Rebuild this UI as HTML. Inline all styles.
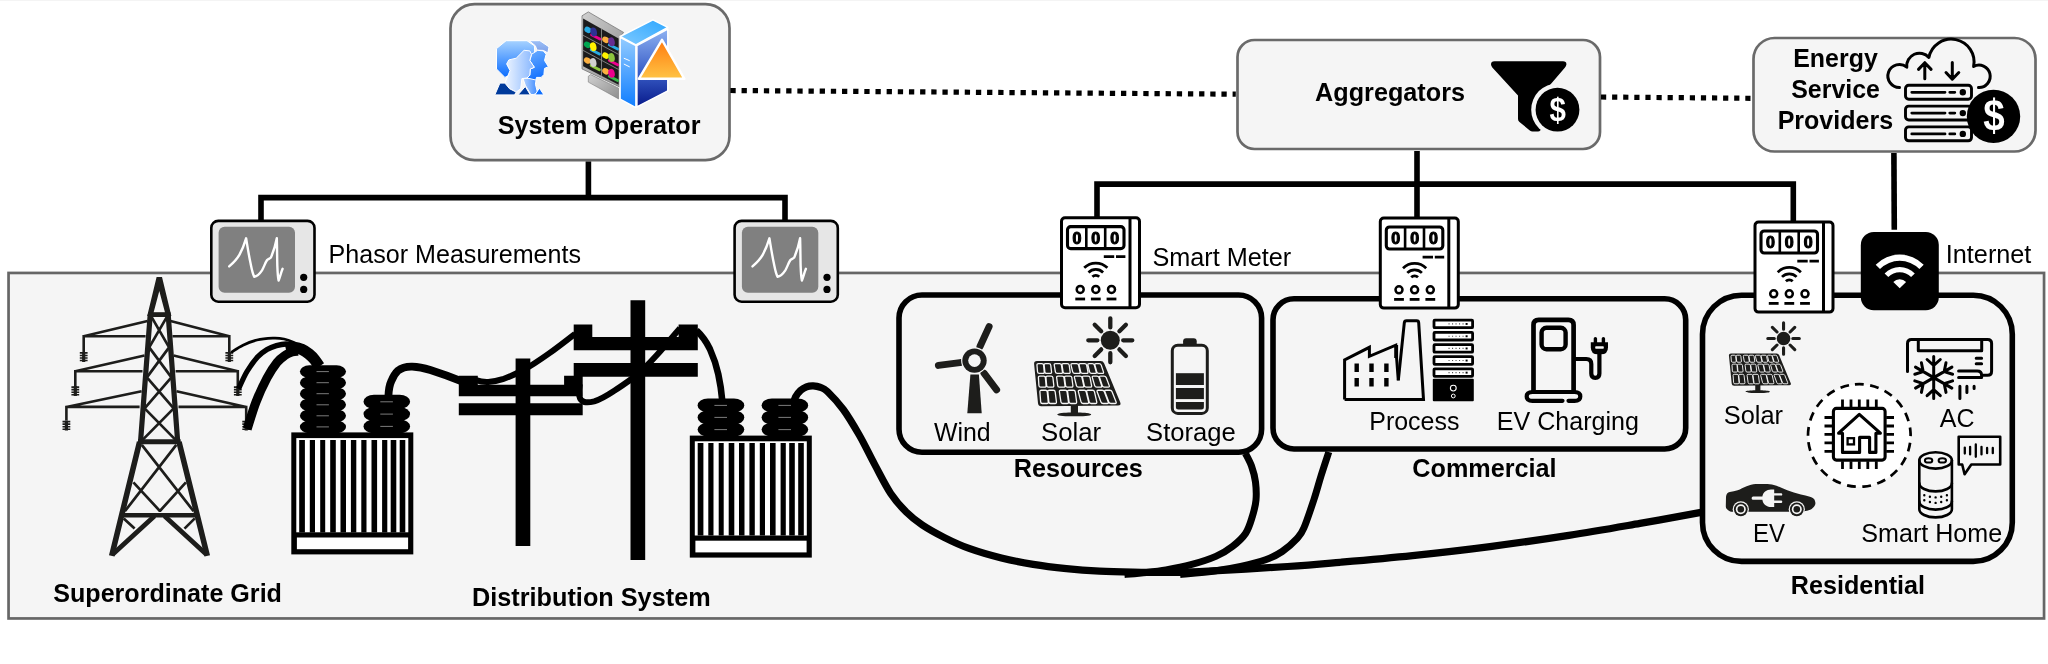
<!DOCTYPE html>
<html lang="en"><head><meta charset="utf-8"><title>Smart grid architecture</title>
<style>html,body{margin:0;padding:0;background:#fff;overflow:hidden}svg{display:block;will-change:transform}text{font-family:"Liberation Sans",sans-serif}</style></head>
<body>
<svg width="2048" height="664" viewBox="0 0 2048 664">
<rect x="0" y="0" width="2048" height="1" fill="#f4f4f4"/>
<rect x="8.55" y="272.95" width="2035.5" height="345.5" fill="#f5f5f5" stroke="#666" stroke-width="2.7"/>
<rect x="450.5" y="4.2" width="279" height="155.9" rx="24" ry="24" fill="#f5f5f5" stroke="#6a6a6a" stroke-width="2.7"/>
<rect x="1237.5" y="40" width="362.5" height="109" rx="17" ry="17" fill="#f5f5f5" stroke="#6a6a6a" stroke-width="2.7"/>
<rect x="1753.5" y="38" width="282" height="113.5" rx="21" ry="21" fill="#f5f5f5" stroke="#6a6a6a" stroke-width="2.7"/>
<line x1="730.4" y1="90.5" x2="1235.8" y2="94.2" stroke="#000" stroke-width="5.2" stroke-dasharray="5.3 5.86"/>
<line x1="1601" y1="97" x2="1751.2" y2="98.3" stroke="#000" stroke-width="5.2" stroke-dasharray="5.2 5.9"/>
<path d="M588.4 161.5V197.6M261 222V197.6H785V222" fill="none" stroke="#000" stroke-width="5.6" stroke-linejoin="miter"/>
<path d="M1417 151V218M1097 218V184.1H1793.3V222" fill="none" stroke="#000" stroke-width="5.6" stroke-linejoin="miter"/>
<path d="M1893.9 153L1894.3 229.8" fill="none" stroke="#000" stroke-width="5.6"/>
<rect x="899" y="295" width="362.6" height="157.3" rx="23" ry="23" fill="none" stroke="#000" stroke-width="5.6"/>
<rect x="1273" y="298.8" width="412.7" height="150.2" rx="21" ry="21" fill="none" stroke="#000" stroke-width="5.6"/>
<rect x="1702.5" y="295.2" width="309.8" height="266.2" rx="39" ry="39" fill="none" stroke="#000" stroke-width="5.6"/>
<g fill="none" stroke="#000" stroke-width="7" stroke-linecap="butt">
<path d="M793.6 404.0C793.9 402.8 794.3 399.3 795.5 397.0C796.7 394.7 798.8 392.1 800.6 390.4C802.4 388.7 804.4 387.6 806.5 386.8C808.6 386.0 810.9 385.7 813.2 385.8C815.5 385.9 818.1 386.4 820.5 387.4C822.9 388.3 823.6 387.8 827.4 391.5C831.2 395.2 838.0 402.3 843.3 409.5C848.6 416.7 853.8 425.6 859.1 434.8C864.4 444.0 869.6 455.1 874.9 464.9C880.2 474.7 885.4 485.5 890.7 493.4C896.0 501.3 901.2 507.0 906.5 512.3C911.8 517.6 916.0 520.8 922.3 525.0C928.6 529.2 936.6 533.6 944.5 537.6C952.4 541.6 960.3 545.3 969.8 548.7C979.3 552.1 990.8 555.4 1001.4 558.0C1012.0 560.6 1022.4 562.6 1033.2 564.4C1044.0 566.2 1055.3 567.5 1066.4 568.6C1077.5 569.7 1088.5 570.5 1099.6 571.1C1110.7 571.7 1121.7 571.9 1132.8 572.1C1143.9 572.3 1154.9 572.5 1166.0 572.4C1177.1 572.3 1179.0 572.7 1199.2 571.7C1219.5 570.7 1264.0 568.1 1287.5 566.5C1311.0 564.9 1319.2 564.1 1340.0 562.3C1360.8 560.5 1387.5 558.2 1412.5 555.6C1437.5 553.0 1464.0 550.0 1490.0 546.6C1516.0 543.2 1543.8 539.3 1568.8 535.4C1593.8 531.5 1618.0 527.2 1640.0 523.4C1662.0 519.6 1690.8 514.2 1701.0 512.4" stroke-width="7.2"/>
<path d="M1245.5 453.5C1246.5 455.6 1249.8 461.2 1251.5 466.0C1253.2 470.8 1254.8 476.3 1255.5 482.0C1256.2 487.7 1256.5 494.2 1256.0 500.0C1255.5 505.8 1254.0 511.1 1252.3 516.6C1250.6 522.1 1249.0 528.2 1245.7 533.2C1242.4 538.2 1237.4 542.6 1232.4 546.5C1227.4 550.4 1222.7 553.4 1215.8 556.4C1208.9 559.4 1199.2 562.5 1190.9 564.7C1182.6 567.0 1174.3 568.5 1166.0 569.9C1157.7 571.3 1148.0 572.2 1141.1 573.0C1134.2 573.8 1127.3 574.2 1124.5 574.4"/>
<path d="M1328.8 452.0C1327.5 456.0 1323.5 468.0 1321.0 476.0C1318.5 484.0 1316.7 491.3 1313.8 500.0C1310.9 508.7 1306.6 521.8 1303.8 528.2C1301.0 534.6 1300.8 534.5 1297.2 538.4C1293.6 542.3 1287.5 547.9 1282.2 551.5C1276.9 555.1 1272.5 557.3 1265.6 559.8C1258.7 562.3 1249.0 564.6 1240.7 566.4C1232.4 568.2 1225.9 569.4 1215.8 570.8C1205.7 572.2 1186.0 574.0 1180.1 574.6"/>
</g>
<text x="497.81" y="134.3" font-size="25.5" textLength="202.68" lengthAdjust="spacingAndGlyphs" font-weight="700" fill="#000">System Operator</text>
<text x="328.53" y="262.5" font-size="25.5" textLength="252.51" lengthAdjust="spacingAndGlyphs" fill="#000">Phasor Measurements</text>
<text x="1315.11" y="101.3" font-size="25.5" textLength="149.89" lengthAdjust="spacingAndGlyphs" font-weight="700" fill="#000">Aggregators</text>
<text x="1793.25" y="67.0" font-size="25.5" textLength="84.50" lengthAdjust="spacingAndGlyphs" font-weight="700" fill="#000">Energy</text>
<text x="1791.22" y="98.0" font-size="25.5" textLength="88.71" lengthAdjust="spacingAndGlyphs" font-weight="700" fill="#000">Service</text>
<text x="1777.64" y="128.9" font-size="25.5" textLength="115.49" lengthAdjust="spacingAndGlyphs" font-weight="700" fill="#000">Providers</text>
<text x="1152.42" y="265.6" font-size="25.5" textLength="138.76" lengthAdjust="spacingAndGlyphs" fill="#000">Smart Meter</text>
<text x="1945.82" y="263.0" font-size="25.5" textLength="85.56" lengthAdjust="spacingAndGlyphs" fill="#000">Internet</text>
<text x="934.00" y="440.8" font-size="25.5" textLength="56.68" lengthAdjust="spacingAndGlyphs" fill="#000">Wind</text>
<text x="1040.98" y="440.7" font-size="25.5" textLength="60.16" lengthAdjust="spacingAndGlyphs" fill="#000">Solar</text>
<text x="1146.09" y="440.7" font-size="25.5" textLength="89.62" lengthAdjust="spacingAndGlyphs" fill="#000">Storage</text>
<text x="1013.82" y="477.1" font-size="25.5" textLength="128.97" lengthAdjust="spacingAndGlyphs" font-weight="700" fill="#000">Resources</text>
<text x="1369.24" y="429.9" font-size="25.5" textLength="90.16" lengthAdjust="spacingAndGlyphs" fill="#000">Process</text>
<text x="1496.73" y="429.8" font-size="25.5" textLength="142.24" lengthAdjust="spacingAndGlyphs" fill="#000">EV Charging</text>
<text x="1412.31" y="477.0" font-size="25.5" textLength="144.25" lengthAdjust="spacingAndGlyphs" font-weight="700" fill="#000">Commercial</text>
<text x="1723.81" y="424.1" font-size="25.5" textLength="59.22" lengthAdjust="spacingAndGlyphs" fill="#000">Solar</text>
<text x="1939.80" y="426.6" font-size="25.5" textLength="34.71" lengthAdjust="spacingAndGlyphs" fill="#000">AC</text>
<text x="1752.92" y="541.8" font-size="25.5" textLength="32.01" lengthAdjust="spacingAndGlyphs" fill="#000">EV</text>
<text x="1861.33" y="541.8" font-size="25.5" textLength="140.88" lengthAdjust="spacingAndGlyphs" fill="#000">Smart Home</text>
<text x="1790.83" y="594.2" font-size="25.5" textLength="134.19" lengthAdjust="spacingAndGlyphs" font-weight="700" fill="#000">Residential</text>
<text x="53.22" y="602.2" font-size="25.5" textLength="228.74" lengthAdjust="spacingAndGlyphs" font-weight="700" fill="#000">Superordinate Grid</text>
<text x="472.02" y="605.5" font-size="25.5" textLength="238.64" lengthAdjust="spacingAndGlyphs" font-weight="700" fill="#000">Distribution System</text>
<g transform="translate(210,219.6)">
<rect x="1.3" y="1.3" width="103.2" height="80.8" rx="7" ry="7" fill="#e6e6e6" stroke="#000" stroke-width="2.6"/>
<rect x="8.6" y="7.2" width="76.4" height="66" rx="6" ry="6" fill="#808080"/>
<path d="M19.2 46.8C23 43.5 27 39.5 29.5 35C32.5 29.5 34.5 24 36.1 18.7C37.5 27 38.8 35.5 40.4 43C41.5 48.5 42.5 54.5 44.3 57.1C47 56.8 49.8 54 52 50.7C54 47.5 55 43.5 57.1 40.4C58.2 39.2 59.8 39.2 60.9 37.9C63.5 32 65.5 25.5 66.8 18.7C67.1 28 67.1 37 67.3 45.6C67.5 51 67.7 57 68.6 60.9C70 57.5 71 53 72.6 49.2" fill="none" stroke="#fff" stroke-width="2.4" stroke-linecap="round" stroke-linejoin="round"/>
<circle cx="93.7" cy="57.7" r="3.6" fill="#000"/><circle cx="93.7" cy="69.8" r="3.6" fill="#000"/>
</g>
<g transform="translate(733.3,219.6)">
<rect x="1.3" y="1.3" width="103.2" height="80.8" rx="7" ry="7" fill="#e6e6e6" stroke="#000" stroke-width="2.6"/>
<rect x="8.6" y="7.2" width="76.4" height="66" rx="6" ry="6" fill="#808080"/>
<path d="M19.2 46.8C23 43.5 27 39.5 29.5 35C32.5 29.5 34.5 24 36.1 18.7C37.5 27 38.8 35.5 40.4 43C41.5 48.5 42.5 54.5 44.3 57.1C47 56.8 49.8 54 52 50.7C54 47.5 55 43.5 57.1 40.4C58.2 39.2 59.8 39.2 60.9 37.9C63.5 32 65.5 25.5 66.8 18.7C67.1 28 67.1 37 67.3 45.6C67.5 51 67.7 57 68.6 60.9C70 57.5 71 53 72.6 49.2" fill="none" stroke="#fff" stroke-width="2.4" stroke-linecap="round" stroke-linejoin="round"/>
<circle cx="93.7" cy="57.7" r="3.6" fill="#000"/><circle cx="93.7" cy="69.8" r="3.6" fill="#000"/>
</g>
<g transform="translate(1060,216.2)" stroke="#000" fill="none">
<rect x="1.5" y="1.5" width="78" height="90" rx="3.5" ry="3.5" fill="#fff" stroke-width="3"/>
<line x1="70" y1="2" x2="70" y2="91" stroke-width="3"/>
<rect x="7.5" y="10.4" width="56.5" height="22" rx="3.2" ry="3.2" stroke-width="3.1"/>
<path d="M26.3 10.4V32.4M45.2 10.4V32.4" stroke-width="2.6"/>
<path d="M43.8 40.5H54.2M56 40.5H65.4" stroke-width="2.8"/>
<path d="M24.2 51.6A16.5 16.5 0 0 1 47.4 51.6M28.5 56.3A10.3 10.3 0 0 1 43.1 56.3M32.4 60.6A4.8 4.8 0 0 1 39.2 60.6" stroke-width="2.7" stroke-linecap="butt"/>
<circle cx="20.2" cy="73.2" r="3.5" stroke-width="2.5"/>
<line x1="15.299999999999999" y1="82.8" x2="25.1" y2="82.8" stroke-width="2.8"/>
<circle cx="35.8" cy="73.2" r="3.5" stroke-width="2.5"/>
<line x1="30.9" y1="82.8" x2="40.699999999999996" y2="82.8" stroke-width="2.8"/>
<circle cx="51.5" cy="73.2" r="3.5" stroke-width="2.5"/>
<line x1="46.6" y1="82.8" x2="56.4" y2="82.8" stroke-width="2.8"/>
</g>
<text x="1076.9" y="243.5" font-size="16" font-weight="700" text-anchor="middle" fill="#000" stroke="#000" stroke-width="1.1" stroke-linejoin="round">0</text>
<text x="1095.8" y="243.5" font-size="16" font-weight="700" text-anchor="middle" fill="#000" stroke="#000" stroke-width="1.1" stroke-linejoin="round">0</text>
<text x="1114.6" y="243.5" font-size="16" font-weight="700" text-anchor="middle" fill="#000" stroke="#000" stroke-width="1.1" stroke-linejoin="round">0</text>
<g transform="translate(1378.8,216.6)" stroke="#000" fill="none">
<rect x="1.5" y="1.5" width="78" height="90" rx="3.5" ry="3.5" fill="#fff" stroke-width="3"/>
<line x1="70" y1="2" x2="70" y2="91" stroke-width="3"/>
<rect x="7.5" y="10.4" width="56.5" height="22" rx="3.2" ry="3.2" stroke-width="3.1"/>
<path d="M26.3 10.4V32.4M45.2 10.4V32.4" stroke-width="2.6"/>
<path d="M43.8 40.5H54.2M56 40.5H65.4" stroke-width="2.8"/>
<path d="M24.2 51.6A16.5 16.5 0 0 1 47.4 51.6M28.5 56.3A10.3 10.3 0 0 1 43.1 56.3M32.4 60.6A4.8 4.8 0 0 1 39.2 60.6" stroke-width="2.7" stroke-linecap="butt"/>
<circle cx="20.2" cy="73.2" r="3.5" stroke-width="2.5"/>
<line x1="15.299999999999999" y1="82.8" x2="25.1" y2="82.8" stroke-width="2.8"/>
<circle cx="35.8" cy="73.2" r="3.5" stroke-width="2.5"/>
<line x1="30.9" y1="82.8" x2="40.699999999999996" y2="82.8" stroke-width="2.8"/>
<circle cx="51.5" cy="73.2" r="3.5" stroke-width="2.5"/>
<line x1="46.6" y1="82.8" x2="56.4" y2="82.8" stroke-width="2.8"/>
</g>
<text x="1395.7" y="243.9" font-size="16" font-weight="700" text-anchor="middle" fill="#000" stroke="#000" stroke-width="1.1" stroke-linejoin="round">0</text>
<text x="1414.6" y="243.9" font-size="16" font-weight="700" text-anchor="middle" fill="#000" stroke="#000" stroke-width="1.1" stroke-linejoin="round">0</text>
<text x="1433.4" y="243.9" font-size="16" font-weight="700" text-anchor="middle" fill="#000" stroke="#000" stroke-width="1.1" stroke-linejoin="round">0</text>
<g transform="translate(1753.5,220.6)" stroke="#000" fill="none">
<rect x="1.5" y="1.5" width="78" height="90" rx="3.5" ry="3.5" fill="#fff" stroke-width="3"/>
<line x1="70" y1="2" x2="70" y2="91" stroke-width="3"/>
<rect x="7.5" y="10.4" width="56.5" height="22" rx="3.2" ry="3.2" stroke-width="3.1"/>
<path d="M26.3 10.4V32.4M45.2 10.4V32.4" stroke-width="2.6"/>
<path d="M43.8 40.5H54.2M56 40.5H65.4" stroke-width="2.8"/>
<path d="M24.2 51.6A16.5 16.5 0 0 1 47.4 51.6M28.5 56.3A10.3 10.3 0 0 1 43.1 56.3M32.4 60.6A4.8 4.8 0 0 1 39.2 60.6" stroke-width="2.7" stroke-linecap="butt"/>
<circle cx="20.2" cy="73.2" r="3.5" stroke-width="2.5"/>
<line x1="15.299999999999999" y1="82.8" x2="25.1" y2="82.8" stroke-width="2.8"/>
<circle cx="35.8" cy="73.2" r="3.5" stroke-width="2.5"/>
<line x1="30.9" y1="82.8" x2="40.699999999999996" y2="82.8" stroke-width="2.8"/>
<circle cx="51.5" cy="73.2" r="3.5" stroke-width="2.5"/>
<line x1="46.6" y1="82.8" x2="56.4" y2="82.8" stroke-width="2.8"/>
</g>
<text x="1770.4" y="247.9" font-size="16" font-weight="700" text-anchor="middle" fill="#000" stroke="#000" stroke-width="1.1" stroke-linejoin="round">0</text>
<text x="1789.3" y="247.9" font-size="16" font-weight="700" text-anchor="middle" fill="#000" stroke="#000" stroke-width="1.1" stroke-linejoin="round">0</text>
<text x="1808.1" y="247.9" font-size="16" font-weight="700" text-anchor="middle" fill="#000" stroke="#000" stroke-width="1.1" stroke-linejoin="round">0</text>
<rect x="1860.8" y="232" width="78" height="78.3" rx="13" ry="13" fill="#000"/>
<path d="M1899.7 288.3L1893.3 282.0A9 9 0 0 1 1906.1 282.0ZM1884.6 273.4A21.2 21.2 0 0 1 1914.8 273.4L1911.1 277.1A16 16 0 0 0 1888.3 277.1ZM1875.7 264.7A33.6 33.6 0 0 1 1923.7 264.7L1919.4 269.0A27.6 27.6 0 0 0 1880.0 269.0Z" fill="#fff"/>
<g stroke="#1d1d1b" fill="none" stroke-linecap="butt" stroke-linejoin="miter">
<path d="M156.6 277H162L171.4 316H147.2Z M159.3 291L153.6 312.5H165Z" fill="#1d1d1b" fill-rule="evenodd" stroke="none"/>
<path d="M150.2 314.7L140.5 442.2M168.2 314.7L177.7 442.2" stroke-width="5.2"/>
<path d="M139.6 441.8L111.7 555.8M179 441.8L207.3 555.8" stroke-width="5.6"/>
<path d="M148 314.7H170.6" stroke-width="4.6"/>
<path d="M138 441.8H180.6" stroke-width="5"/>
<path d="M121 515.3H197.6" stroke-width="4.4"/>
<path d="M151.5 316.9L169.1 347.4M166.9 316.9L149.2 347.4M149.2 347.4L171.4 377.4M169.1 347.4L146.9 377.4M146.9 377.4L173.7 408.4M171.4 377.4L144.6 408.4M144.6 408.4L176.1 440.4M173.7 408.4L142.1 440.4" stroke-width="2.7"/>
<path d="M141.8 444.9L193.6 511.2M176.3 444.9L124.9 511.2M133.4 482.3L159.9 511M185.9 482.3L159.9 511" stroke-width="2.7"/>
<path d="M123.7 518.4L134.6 528.6M194.8 518.4L184.5 528.6" stroke-width="2.7"/>
<path d="M154.5 516L112.5 554.5M164.5 516L206.5 554.5" stroke-width="4.8"/>
<path d="M147.6 321.1L83.7 336.3H145.6M83.7 335.1V351.9M170.5 321.1L229.3 336.3H172.5M229.3 335.1V351.9M144.5 355.5L75.3 371.2H142.5M75.3 370.0V386.1M173.6 355.5L237.8 371.2H175.6M237.8 370.0V386.1M141.6 391.2L66.4 406.9H139.6M66.4 405.7V420.6M176.5 391.2L246.2 406.9H178.5M246.2 405.7V420.6" stroke-width="2.6"/>
<path d="M82.10000000000001 351.9H85.3V361.9H82.10000000000001ZM79.8 352.09999999999997H87.60000000000001V353.7H79.8ZM79.8 354.65H87.60000000000001V356.25H79.8ZM79.8 357.2H87.60000000000001V358.8H79.8ZM79.8 359.74999999999994H87.60000000000001V361.34999999999997H79.8ZM227.70000000000002 351.9H230.9V361.9H227.70000000000002ZM225.4 352.09999999999997H233.20000000000002V353.7H225.4ZM225.4 354.65H233.20000000000002V356.25H225.4ZM225.4 357.2H233.20000000000002V358.8H225.4ZM225.4 359.74999999999994H233.20000000000002V361.34999999999997H225.4ZM73.7 386.1H76.89999999999999V396.1H73.7ZM71.39999999999999 386.3H79.2V387.90000000000003H71.39999999999999ZM71.39999999999999 388.85H79.2V390.45000000000005H71.39999999999999ZM71.39999999999999 391.40000000000003H79.2V393.00000000000006H71.39999999999999ZM71.39999999999999 393.95H79.2V395.55H71.39999999999999ZM236.20000000000002 386.1H239.4V396.1H236.20000000000002ZM233.9 386.3H241.70000000000002V387.90000000000003H233.9ZM233.9 388.85H241.70000000000002V390.45000000000005H233.9ZM233.9 391.40000000000003H241.70000000000002V393.00000000000006H233.9ZM233.9 393.95H241.70000000000002V395.55H233.9ZM64.80000000000001 420.6H68.0V430.6H64.80000000000001ZM62.50000000000001 420.8H70.30000000000001V422.40000000000003H62.50000000000001ZM62.50000000000001 423.35H70.30000000000001V424.95000000000005H62.50000000000001ZM62.50000000000001 425.90000000000003H70.30000000000001V427.50000000000006H62.50000000000001ZM62.50000000000001 428.45H70.30000000000001V430.05H62.50000000000001ZM244.6 420.6H247.79999999999998V430.6H244.6ZM242.29999999999998 420.8H250.1V422.40000000000003H242.29999999999998ZM242.29999999999998 423.35H250.1V424.95000000000005H242.29999999999998ZM242.29999999999998 425.90000000000003H250.1V427.50000000000006H242.29999999999998ZM242.29999999999998 428.45H250.1V430.05H242.29999999999998Z" fill="#1d1d1b" stroke="none"/>
</g>
<g fill="none" stroke="#000" stroke-linecap="butt">
<path d="M231.2 352.3C233.2 351.1 238.7 347.2 243.0 345.2C247.3 343.1 252.0 341.2 257.0 340.0C262.0 338.8 268.3 338.4 272.8 338.2C277.3 338.0 280.5 338.3 284.0 339.0C287.5 339.7 290.8 341.1 294.0 342.5C297.2 343.9 300.5 345.9 303.0 347.5C305.5 349.1 308.0 351.2 309.0 352.0" stroke-width="2.7"/>
<path d="M238.6 388.8C240.0 385.9 243.8 376.8 247.0 371.5C250.2 366.2 254.2 360.7 257.5 357.0C260.8 353.3 263.9 351.4 267.0 349.5C270.1 347.6 273.2 346.5 276.4 345.6C279.6 344.7 283.1 344.0 286.0 344.0C288.9 344.0 291.2 344.5 294.0 345.4C296.8 346.3 301.5 348.8 303.0 349.5" stroke-width="5.3"/>
<path d="M247.2 429.0C248.7 424.5 252.7 410.5 256.0 402.0C259.3 393.5 263.5 384.6 267.0 378.0C270.5 371.4 274.0 366.3 277.0 362.5C280.0 358.7 282.5 357.1 285.0 355.4C287.5 353.6 289.8 352.7 292.0 352.0C294.2 351.3 297.0 351.3 298.0 351.2" stroke-width="9"/>
<path d="M286.0 349.6C287.3 349.3 291.3 347.6 294.0 347.6C296.7 347.6 299.5 348.4 302.0 349.5C304.5 350.6 306.9 352.3 309.0 354.0C311.1 355.7 312.8 357.4 314.5 359.5C316.2 361.6 318.5 365.3 319.3 366.5" stroke-width="11.4"/>
</g>
<rect x="299.9" y="365.3" width="46.1" height="12.6" rx="9.4" ry="6.3" fill="#000"/>
<rect x="299.9" y="376.4" width="46.1" height="12.6" rx="9.4" ry="6.3" fill="#000"/>
<rect x="299.9" y="387.4" width="46.1" height="12.6" rx="9.4" ry="6.3" fill="#000"/>
<rect x="299.9" y="398.5" width="46.1" height="12.6" rx="9.4" ry="6.3" fill="#000"/>
<rect x="299.9" y="409.5" width="46.1" height="12.6" rx="9.4" ry="6.3" fill="#000"/>
<rect x="299.9" y="420.6" width="46.1" height="12.6" rx="9.4" ry="6.3" fill="#000"/>
<path d="M316.5 371.6H328.9M316.5 382.7H328.9M316.5 393.7H328.9M316.5 404.8H328.9M316.5 415.8H328.9M316.5 426.9H328.9" stroke="#9a9a9a" stroke-width="0.8" fill="none"/>
<rect x="363.5" y="394.8" width="46.6" height="14.0" rx="10.5" ry="7.0" fill="#000"/>
<rect x="363.5" y="407.1" width="46.6" height="14.0" rx="10.5" ry="7.0" fill="#000"/>
<rect x="363.5" y="419.4" width="46.6" height="14.0" rx="10.5" ry="7.0" fill="#000"/>
<path d="M380.3 401.8H392.9M380.3 414.1H392.9M380.3 426.4H392.9" stroke="#9a9a9a" stroke-width="0.8" fill="none"/>
<rect x="697.6" y="398.5" width="46.7" height="13.8" rx="10.3" ry="6.9" fill="#000"/>
<rect x="697.6" y="410.6" width="46.7" height="13.8" rx="10.3" ry="6.9" fill="#000"/>
<rect x="697.6" y="422.7" width="46.7" height="13.8" rx="10.3" ry="6.9" fill="#000"/>
<path d="M714.4 405.4H727.0M714.4 417.4H727.0M714.4 429.6H727.0" stroke="#9a9a9a" stroke-width="0.8" fill="none"/>
<rect x="761.6" y="398.5" width="46.6" height="13.8" rx="10.3" ry="6.9" fill="#000"/>
<rect x="761.6" y="410.6" width="46.6" height="13.8" rx="10.3" ry="6.9" fill="#000"/>
<rect x="761.6" y="422.7" width="46.6" height="13.8" rx="10.3" ry="6.9" fill="#000"/>
<path d="M778.4 405.4H791.0M778.4 417.4H791.0M778.4 429.6H791.0" stroke="#9a9a9a" stroke-width="0.8" fill="none"/>
<g transform="translate(291.3,432.4)">
<rect x="0" y="0" width="122" height="122" fill="#000"/>
<rect x="5" y="5.7" width="112" height="94.2" fill="#fff"/>
<path d="M7.9 7.5H13.6V100H7.9ZM18.5 7.5H23.7V100H18.5ZM28.9 7.5H33.9V100H28.9ZM38.9 7.5H44.5V100H38.9ZM49.2 7.5H54.7V100H49.2ZM59.6 7.5H65V100H59.6ZM70 7.5H75.2V100H70ZM80.2 7.5H85.8V100H80.2ZM90.8 7.5H96V100H90.8ZM99.4 7.5H105V100H99.4ZM108.4 7.5H114V100H108.4Z" fill="#000"/>
<rect x="5.6" y="105.1" width="111.2" height="11.7" fill="#fff"/>
</g>
<g transform="translate(689.8,435.6)">
<rect x="0" y="0" width="122" height="122" fill="#000"/>
<rect x="5" y="5.7" width="112" height="94.2" fill="#fff"/>
<path d="M7.9 7.5H13.6V100H7.9ZM18.5 7.5H23.7V100H18.5ZM28.9 7.5H33.9V100H28.9ZM38.9 7.5H44.5V100H38.9ZM49.2 7.5H54.7V100H49.2ZM59.6 7.5H65V100H59.6ZM70 7.5H75.2V100H70ZM80.2 7.5H85.8V100H80.2ZM90.8 7.5H96V100H90.8ZM99.4 7.5H105V100H99.4ZM108.4 7.5H114V100H108.4Z" fill="#000"/>
<rect x="5.6" y="105.1" width="111.2" height="11.7" fill="#fff"/>
</g>
<path d="M515.6 358.5H530.3V546H515.6Z M458.8 384.7H582.7V396.3H458.8Z M458.8 375.8H477.8V385H458.8Z M564.1 375.8H582.7V385H564.1Z M458.8 403.3H582.7V415.3H458.8Z" fill="#000"/>
<path d="M630.5 300.3H645.2V560H630.5Z M573.7 337H697.8V350.2H573.7Z M573.7 324.5H592.3V338H573.7Z M678.6 324.5H697.8V338H678.6Z M573.7 363H697.8V376.7H573.7Z" fill="#000"/>
<g fill="none" stroke="#000" stroke-linecap="butt">
<path d="M388.4 396.5C388.6 390 389.5 385 391.5 380.7C393.5 376 395.5 373 397.8 370.8C402 367.5 407 366.4 412.3 366.6C418 366.8 424 368 430.3 369.9C440 373 450 376.5 460.5 380.8" stroke-width="7.8"/>
<path d="M476 380.2C480 381.6 484 382.2 488.2 382C493 381.8 498 380.8 502.7 379.2C510 376.5 517 373.5 524.3 369.5C532.5 365 540.5 359.5 548.4 353.9C557 347.8 565.5 341.2 575 333.8" stroke-width="6"/>
<path d="M579.8 384C579 388 578.6 392 579.3 396C580 399.5 581.5 401.2 584.4 402C587.5 402.8 590.8 402.2 594.2 401.3C601 399.3 607.3 395.3 613.5 391.2C620.3 387 626.5 382.6 632.8 378C641.3 371.5 649.3 363.4 656.9 355C665 346 672.5 336.8 680 328.2" stroke-width="6"/>
<path d="M696.5 330.5C703 336.5 707 343 709.9 349C713.5 357 716.5 366 718.3 374.3C720.2 383 721.5 392 722.3 401" stroke-width="6.6"/>
</g>
<g fill="#1d1d1b" stroke="none">
<path d="M970.4 374.5H978.9L981.7 413.2H967.3Z"/>
<g stroke="#1d1d1b" stroke-width="7" stroke-linecap="round" fill="none">
<path d="M980 346.5L989.1 326.6M960 362.6L938.4 365.4M984 373.2L996.6 389.8"/>
</g>
<circle cx="974.5" cy="360.6" r="13.4" fill="#f5f5f5"/>
<circle cx="974.5" cy="360.6" r="12.2"/>
<circle cx="974.5" cy="360.6" r="6.3" fill="#f5f5f5"/>
</g>
<g><path d="M1037 361.1H1100.6Q1103.2 361.1 1104.2 363.5L1120.2 402.2Q1121.5 405.4 1118 405.5L1041.4 406.3Q1038.3 406.4 1038 403.3L1034.1 364.1Q1033.8 361.1 1037 361.1Z" fill="#1d1d1b"/><path d="M1070.8 405H1078V412.4C1084 412.6 1091.2 413 1091.2 414.4C1091.2 415.8 1082 416.3 1074.3 416.3C1066.5 416.3 1057.3 415.8 1057.3 414.4C1057.3 413 1064.6 412.6 1070.8 412.4Z" fill="#1d1d1b"/><path d="M1036.98 365.21Q1036.86 363.62 1038.46 363.62L1041.82 363.62Q1043.42 363.62 1043.58 365.21L1044.24 371.82Q1044.40 373.41 1042.80 373.41L1039.24 373.41Q1037.64 373.41 1037.51 371.82ZM1044.17 365.21Q1044.01 363.62 1045.61 363.62L1048.97 363.62Q1050.57 363.62 1050.76 365.21L1051.55 371.82Q1051.74 373.41 1050.14 373.41L1046.59 373.41Q1044.99 373.41 1044.83 371.82ZM1054.26 365.20Q1054.00 363.62 1055.60 363.62L1059.59 363.62Q1061.19 363.62 1061.44 365.20L1062.47 371.83Q1062.71 373.41 1061.11 373.41L1057.26 373.41Q1055.66 373.41 1055.39 371.84ZM1062.03 365.20Q1061.78 363.62 1063.38 363.62L1067.38 363.62Q1068.98 363.62 1069.20 365.20L1070.13 371.83Q1070.35 373.41 1068.75 373.41L1064.90 373.41Q1063.30 373.41 1063.06 371.83ZM1071.03 365.17Q1070.65 363.62 1072.25 363.62L1076.59 363.62Q1078.19 363.62 1078.54 365.18L1080.04 371.85Q1080.39 373.41 1078.79 373.41L1074.70 373.41Q1073.10 373.41 1072.71 371.86ZM1079.13 365.18Q1078.78 363.62 1080.38 363.62L1084.72 363.62Q1086.32 363.62 1086.63 365.19L1087.96 371.84Q1088.28 373.41 1086.68 373.41L1082.58 373.41Q1080.98 373.41 1080.63 371.85ZM1087.96 365.17Q1087.59 363.62 1089.19 363.62L1092.26 363.62Q1093.86 363.62 1094.30 365.16L1096.21 371.87Q1096.65 373.41 1095.05 373.41L1091.54 373.41Q1089.94 373.41 1089.57 371.86ZM1094.89 365.16Q1094.45 363.62 1096.05 363.62L1099.11 363.62Q1100.71 363.62 1101.22 365.14L1103.45 371.89Q1103.95 373.41 1102.35 373.41L1098.84 373.41Q1097.24 373.41 1096.80 371.87ZM1038.42 377.65Q1038.33 376.06 1039.93 376.06L1043.63 376.06Q1045.23 376.06 1045.37 377.65L1046.07 385.53Q1046.21 387.13 1044.61 387.13L1040.61 387.13Q1039.01 387.13 1038.91 385.53ZM1045.96 377.65Q1045.82 376.06 1047.42 376.06L1051.12 376.06Q1052.72 376.06 1052.91 377.65L1053.81 385.54Q1054.00 387.13 1052.40 387.13L1048.40 387.13Q1046.80 387.13 1046.66 385.53ZM1056.66 377.64Q1056.44 376.06 1058.04 376.06L1062.14 376.06Q1063.74 376.06 1063.95 377.64L1065.00 385.54Q1065.21 387.13 1063.61 387.13L1059.51 387.13Q1057.91 387.13 1057.70 385.54ZM1064.54 377.64Q1064.33 376.06 1065.93 376.06L1070.03 376.06Q1071.63 376.06 1071.84 377.64L1072.88 385.54Q1073.10 387.13 1071.50 387.13L1067.40 387.13Q1065.80 387.13 1065.59 385.54ZM1074.46 377.61Q1074.07 376.06 1075.67 376.06L1080.02 376.06Q1081.62 376.06 1081.96 377.62L1083.72 385.56Q1084.06 387.13 1082.46 387.13L1078.42 387.13Q1076.82 387.13 1076.43 385.57ZM1082.55 377.62Q1082.20 376.06 1083.80 376.06L1088.15 376.06Q1089.75 376.06 1090.05 377.63L1091.59 385.55Q1091.90 387.13 1090.30 387.13L1086.25 387.13Q1084.65 387.13 1084.31 385.56ZM1092.35 377.59Q1091.90 376.06 1093.50 376.06L1096.86 376.06Q1098.46 376.06 1098.97 377.57L1101.67 385.61Q1102.18 387.13 1100.58 387.13L1096.73 387.13Q1095.13 387.13 1094.68 385.59ZM1099.56 377.57Q1099.05 376.06 1100.65 376.06L1104.01 376.06Q1105.61 376.06 1106.18 377.55L1109.25 385.63Q1109.82 387.13 1108.22 387.13L1104.37 387.13Q1102.77 387.13 1102.26 385.61ZM1039.91 391.86Q1039.79 390.26 1041.39 390.26L1045.49 390.26Q1047.09 390.26 1047.25 391.85L1048.25 401.89Q1048.41 403.48 1046.81 403.48L1042.37 403.48Q1040.77 403.48 1040.66 401.89ZM1047.84 391.85Q1047.68 390.26 1049.28 390.26L1053.38 390.26Q1054.98 390.26 1055.18 391.85L1056.44 401.89Q1056.64 403.48 1055.04 403.48L1050.60 403.48Q1049.00 403.48 1048.84 401.89ZM1059.42 391.84Q1059.19 390.26 1060.79 390.26L1065.23 390.26Q1066.83 390.26 1067.05 391.84L1068.46 401.90Q1068.69 403.48 1067.09 403.48L1062.75 403.48Q1061.15 403.48 1060.91 401.90ZM1067.64 391.84Q1067.41 390.26 1069.01 390.26L1073.45 390.26Q1075.05 390.26 1075.27 391.85L1076.61 401.90Q1076.82 403.48 1075.22 403.48L1070.88 403.48Q1069.28 403.48 1069.05 401.90ZM1078.39 391.81Q1077.99 390.26 1079.59 390.26L1084.18 390.26Q1085.78 390.26 1086.15 391.82L1088.59 401.93Q1088.96 403.48 1087.36 403.48L1083.02 403.48Q1081.42 403.48 1081.02 401.93ZM1086.74 391.82Q1086.37 390.26 1087.97 390.26L1092.55 390.26Q1094.15 390.26 1094.50 391.82L1096.74 401.92Q1097.09 403.48 1095.49 403.48L1091.15 403.48Q1089.55 403.48 1089.17 401.93ZM1097.16 391.76Q1096.60 390.26 1098.20 390.26L1102.15 390.26Q1103.75 390.26 1104.32 391.75L1108.23 401.99Q1108.80 403.48 1107.20 403.48L1103.10 403.48Q1101.50 403.48 1100.94 401.98ZM1104.91 391.75Q1104.34 390.26 1105.94 390.26L1109.89 390.26Q1111.49 390.26 1112.07 391.75L1116.10 401.99Q1116.68 403.48 1115.08 403.48L1110.98 403.48Q1109.38 403.48 1108.81 401.99Z" fill="none" stroke="#f5f5f5" stroke-width="1.3" stroke-linejoin="round"/><circle cx="1110.3" cy="340.3" r="9.5" fill="#1d1d1b"/><path d="M1123.2 340.3L1132.3 340.3M1119.4 349.4L1125.9 355.9M1110.3 353.2L1110.3 362.3M1101.2 349.4L1094.7 355.9M1097.4 340.3L1088.3 340.3M1101.2 331.2L1094.7 324.7M1110.3 327.4L1110.3 318.3M1119.4 331.2L1125.9 324.7" stroke="#1d1d1b" stroke-width="4.3" stroke-linecap="round" fill="none"/></g>
<g transform="translate(1729 353.7) scale(0.717) translate(-1034.2 -361.5)"><path d="M1037 361.1H1100.6Q1103.2 361.1 1104.2 363.5L1120.2 402.2Q1121.5 405.4 1118 405.5L1041.4 406.3Q1038.3 406.4 1038 403.3L1034.1 364.1Q1033.8 361.1 1037 361.1Z" fill="#1d1d1b"/><path d="M1070.8 405H1078V412.4C1084 412.6 1091.2 413 1091.2 414.4C1091.2 415.8 1082 416.3 1074.3 416.3C1066.5 416.3 1057.3 415.8 1057.3 414.4C1057.3 413 1064.6 412.6 1070.8 412.4Z" fill="#1d1d1b"/><path d="M1036.98 365.21Q1036.86 363.62 1038.46 363.62L1041.82 363.62Q1043.42 363.62 1043.58 365.21L1044.24 371.82Q1044.40 373.41 1042.80 373.41L1039.24 373.41Q1037.64 373.41 1037.51 371.82ZM1044.17 365.21Q1044.01 363.62 1045.61 363.62L1048.97 363.62Q1050.57 363.62 1050.76 365.21L1051.55 371.82Q1051.74 373.41 1050.14 373.41L1046.59 373.41Q1044.99 373.41 1044.83 371.82ZM1054.26 365.20Q1054.00 363.62 1055.60 363.62L1059.59 363.62Q1061.19 363.62 1061.44 365.20L1062.47 371.83Q1062.71 373.41 1061.11 373.41L1057.26 373.41Q1055.66 373.41 1055.39 371.84ZM1062.03 365.20Q1061.78 363.62 1063.38 363.62L1067.38 363.62Q1068.98 363.62 1069.20 365.20L1070.13 371.83Q1070.35 373.41 1068.75 373.41L1064.90 373.41Q1063.30 373.41 1063.06 371.83ZM1071.03 365.17Q1070.65 363.62 1072.25 363.62L1076.59 363.62Q1078.19 363.62 1078.54 365.18L1080.04 371.85Q1080.39 373.41 1078.79 373.41L1074.70 373.41Q1073.10 373.41 1072.71 371.86ZM1079.13 365.18Q1078.78 363.62 1080.38 363.62L1084.72 363.62Q1086.32 363.62 1086.63 365.19L1087.96 371.84Q1088.28 373.41 1086.68 373.41L1082.58 373.41Q1080.98 373.41 1080.63 371.85ZM1087.96 365.17Q1087.59 363.62 1089.19 363.62L1092.26 363.62Q1093.86 363.62 1094.30 365.16L1096.21 371.87Q1096.65 373.41 1095.05 373.41L1091.54 373.41Q1089.94 373.41 1089.57 371.86ZM1094.89 365.16Q1094.45 363.62 1096.05 363.62L1099.11 363.62Q1100.71 363.62 1101.22 365.14L1103.45 371.89Q1103.95 373.41 1102.35 373.41L1098.84 373.41Q1097.24 373.41 1096.80 371.87ZM1038.42 377.65Q1038.33 376.06 1039.93 376.06L1043.63 376.06Q1045.23 376.06 1045.37 377.65L1046.07 385.53Q1046.21 387.13 1044.61 387.13L1040.61 387.13Q1039.01 387.13 1038.91 385.53ZM1045.96 377.65Q1045.82 376.06 1047.42 376.06L1051.12 376.06Q1052.72 376.06 1052.91 377.65L1053.81 385.54Q1054.00 387.13 1052.40 387.13L1048.40 387.13Q1046.80 387.13 1046.66 385.53ZM1056.66 377.64Q1056.44 376.06 1058.04 376.06L1062.14 376.06Q1063.74 376.06 1063.95 377.64L1065.00 385.54Q1065.21 387.13 1063.61 387.13L1059.51 387.13Q1057.91 387.13 1057.70 385.54ZM1064.54 377.64Q1064.33 376.06 1065.93 376.06L1070.03 376.06Q1071.63 376.06 1071.84 377.64L1072.88 385.54Q1073.10 387.13 1071.50 387.13L1067.40 387.13Q1065.80 387.13 1065.59 385.54ZM1074.46 377.61Q1074.07 376.06 1075.67 376.06L1080.02 376.06Q1081.62 376.06 1081.96 377.62L1083.72 385.56Q1084.06 387.13 1082.46 387.13L1078.42 387.13Q1076.82 387.13 1076.43 385.57ZM1082.55 377.62Q1082.20 376.06 1083.80 376.06L1088.15 376.06Q1089.75 376.06 1090.05 377.63L1091.59 385.55Q1091.90 387.13 1090.30 387.13L1086.25 387.13Q1084.65 387.13 1084.31 385.56ZM1092.35 377.59Q1091.90 376.06 1093.50 376.06L1096.86 376.06Q1098.46 376.06 1098.97 377.57L1101.67 385.61Q1102.18 387.13 1100.58 387.13L1096.73 387.13Q1095.13 387.13 1094.68 385.59ZM1099.56 377.57Q1099.05 376.06 1100.65 376.06L1104.01 376.06Q1105.61 376.06 1106.18 377.55L1109.25 385.63Q1109.82 387.13 1108.22 387.13L1104.37 387.13Q1102.77 387.13 1102.26 385.61ZM1039.91 391.86Q1039.79 390.26 1041.39 390.26L1045.49 390.26Q1047.09 390.26 1047.25 391.85L1048.25 401.89Q1048.41 403.48 1046.81 403.48L1042.37 403.48Q1040.77 403.48 1040.66 401.89ZM1047.84 391.85Q1047.68 390.26 1049.28 390.26L1053.38 390.26Q1054.98 390.26 1055.18 391.85L1056.44 401.89Q1056.64 403.48 1055.04 403.48L1050.60 403.48Q1049.00 403.48 1048.84 401.89ZM1059.42 391.84Q1059.19 390.26 1060.79 390.26L1065.23 390.26Q1066.83 390.26 1067.05 391.84L1068.46 401.90Q1068.69 403.48 1067.09 403.48L1062.75 403.48Q1061.15 403.48 1060.91 401.90ZM1067.64 391.84Q1067.41 390.26 1069.01 390.26L1073.45 390.26Q1075.05 390.26 1075.27 391.85L1076.61 401.90Q1076.82 403.48 1075.22 403.48L1070.88 403.48Q1069.28 403.48 1069.05 401.90ZM1078.39 391.81Q1077.99 390.26 1079.59 390.26L1084.18 390.26Q1085.78 390.26 1086.15 391.82L1088.59 401.93Q1088.96 403.48 1087.36 403.48L1083.02 403.48Q1081.42 403.48 1081.02 401.93ZM1086.74 391.82Q1086.37 390.26 1087.97 390.26L1092.55 390.26Q1094.15 390.26 1094.50 391.82L1096.74 401.92Q1097.09 403.48 1095.49 403.48L1091.15 403.48Q1089.55 403.48 1089.17 401.93ZM1097.16 391.76Q1096.60 390.26 1098.20 390.26L1102.15 390.26Q1103.75 390.26 1104.32 391.75L1108.23 401.99Q1108.80 403.48 1107.20 403.48L1103.10 403.48Q1101.50 403.48 1100.94 401.98ZM1104.91 391.75Q1104.34 390.26 1105.94 390.26L1109.89 390.26Q1111.49 390.26 1112.07 391.75L1116.10 401.99Q1116.68 403.48 1115.08 403.48L1110.98 403.48Q1109.38 403.48 1108.81 401.99Z" fill="none" stroke="#f5f5f5" stroke-width="1.3" stroke-linejoin="round"/><circle cx="1110.3" cy="340.3" r="9.5" fill="#1d1d1b"/><path d="M1123.2 340.3L1132.3 340.3M1119.4 349.4L1125.9 355.9M1110.3 353.2L1110.3 362.3M1101.2 349.4L1094.7 355.9M1097.4 340.3L1088.3 340.3M1101.2 331.2L1094.7 324.7M1110.3 327.4L1110.3 318.3M1119.4 331.2L1125.9 324.7" stroke="#1d1d1b" stroke-width="4.3" stroke-linecap="round" fill="none"/></g>
<g fill="#1d1d1b">
<rect x="1172.3" y="345.3" width="35" height="68.1" rx="5.5" ry="5.5" fill="none" stroke="#1d1d1b" stroke-width="3"/>
<path d="M1183.1 344.5V341.3Q1183.1 338.3 1186.1 338.3H1193.7Q1196.7 338.3 1196.7 341.3V344.5Z"/>
<rect x="1175.9" y="373.2" width="28" height="11.8"/>
<rect x="1175.9" y="388" width="28" height="11.1"/>
<path d="M1175.9 402.1H1203.9V406.9Q1203.9 409.4 1201.4 409.4H1178.4Q1175.9 409.4 1175.9 406.9Z"/>
</g>
<g fill="none" stroke="#000" stroke-linejoin="miter">
<path d="M1344.6 399.6V359.9L1369.4 347.3V356.3L1395.7 345.2V356.5L1397.2 356.5M1398.3 380.4L1404.3 322.8Q1404.5 320.8 1406.5 320.8H1416.6Q1418.6 320.8 1418.7 322.8L1423.5 399.6H1344.6" stroke-width="3"/>
<path d="M1396.6 345V358L1398.3 380.4" stroke-width="3"/>
</g>
<path d="M1354.5 363.5h4.4v8.4h-4.4ZM1354.5 378h4.4v8.4h-4.4ZM1369.3 363.5h4.4v8.4h-4.4ZM1369.3 378h4.4v8.4h-4.4ZM1384.2 363.5h4.4v8.4h-4.4ZM1384.2 378h4.4v8.4h-4.4Z" fill="#000"/>
<rect x="1434" y="320.1" width="38.6" height="7.6" rx="0.8" fill="#fff" stroke="#000" stroke-width="2.8"/>
<path d="M1448.5 323.9h1.1M1452 323.9h1.1M1455.5 323.9h1.1M1459 323.9h1.1M1462.5 323.9h1.1" stroke="#555" stroke-width="1.1" fill="none"/>
<rect x="1465.6" y="323.0" width="2" height="1.9" fill="#000"/>
<rect x="1434" y="332.4" width="38.6" height="7.6" rx="0.8" fill="#fff" stroke="#000" stroke-width="2.8"/>
<path d="M1448.5 336.2h1.1M1452 336.2h1.1M1455.5 336.2h1.1M1459 336.2h1.1M1462.5 336.2h1.1" stroke="#555" stroke-width="1.1" fill="none"/>
<rect x="1465.6" y="335.3" width="2" height="1.9" fill="#000"/>
<rect x="1434" y="344.6" width="38.6" height="7.6" rx="0.8" fill="#fff" stroke="#000" stroke-width="2.8"/>
<path d="M1448.5 348.4h1.1M1452 348.4h1.1M1455.5 348.4h1.1M1459 348.4h1.1M1462.5 348.4h1.1" stroke="#555" stroke-width="1.1" fill="none"/>
<rect x="1465.6" y="347.5" width="2" height="1.9" fill="#000"/>
<rect x="1434" y="356.7" width="38.6" height="7.6" rx="0.8" fill="#fff" stroke="#000" stroke-width="2.8"/>
<path d="M1448.5 360.5h1.1M1452 360.5h1.1M1455.5 360.5h1.1M1459 360.5h1.1M1462.5 360.5h1.1" stroke="#555" stroke-width="1.1" fill="none"/>
<rect x="1465.6" y="359.6" width="2" height="1.9" fill="#000"/>
<rect x="1434" y="368.8" width="38.6" height="7.6" rx="0.8" fill="#fff" stroke="#000" stroke-width="2.8"/>
<path d="M1448.5 372.6h1.1M1452 372.6h1.1M1455.5 372.6h1.1M1459 372.6h1.1M1462.5 372.6h1.1" stroke="#555" stroke-width="1.1" fill="none"/>
<rect x="1465.6" y="371.7" width="2" height="1.9" fill="#000"/>
<rect x="1432.8" y="378.7" width="41" height="22.6" rx="1" fill="#000"/>
<circle cx="1453.3" cy="388.1" r="2.9" fill="none" stroke="#fff" stroke-width="1.1"/>
<circle cx="1453.3" cy="396" r="1.9" fill="none" stroke="#fff" stroke-width="1"/>
<g fill="none" stroke="#000" stroke-width="4.7" stroke-linecap="round" stroke-linejoin="round">
<path d="M1533.5 391V325Q1533.5 319.8 1538.7 319.8H1568.4Q1573.6 319.8 1573.6 325V391"/>
<rect x="1541.6" y="327.8" width="24" height="21.4" rx="4.8" ry="4.8" stroke-width="4.4"/>
<path d="M1568.5 400.8H1574.5Q1580.3 400.8 1580.3 396.4Q1580.3 392 1574.5 392H1532.5Q1526.7 392 1526.7 396.4Q1526.7 400.8 1532.5 400.8H1562.5" stroke-width="4.2"/>
<path d="M1574 359H1586.3Q1591.3 359 1591.3 364V373.5Q1591.3 377.9 1595.3 377.9Q1599.4 377.9 1599.4 373.5V353" stroke-width="4.2"/>
</g>
<path d="M1590.8 342.3H1608V347.2Q1608 354.3 1601 354.3H1597.8Q1590.8 354.3 1590.8 347.2Z" fill="#000"/>
<rect x="1595.2" y="346.3" width="8.6" height="2.5" rx="0.8" fill="#f5f5f5"/>
<path d="M1595.4 343V338.6M1603.4 343V338.6" fill="none" stroke="#000" stroke-width="3.4" stroke-linecap="round"/>
<circle cx="1859.3" cy="435.5" r="51.3" fill="#fff" stroke="#000" stroke-width="2.7" stroke-dasharray="8.8 6.549" transform="rotate(-94.9 1859.3 435.5)"/>
<g fill="none" stroke="#000">
<rect x="1833.4" y="408.4" width="51.7" height="51.7" rx="3" ry="3" stroke-width="3.1"/>
<path d="M1842.5 399.6V407.5M1842.5 461.2V469M1851 399.6V407.5M1851 461.2V469M1859.3 399.6V407.5M1859.3 461.2V469M1867.8 399.6V407.5M1867.8 461.2V469M1876.3 399.6V407.5M1876.3 461.2V469M1824.5 417.5H1832.5M1886.2 417.5H1894M1824.5 426H1832.5M1886.2 426H1894M1824.5 434.3H1832.5M1886.2 434.3H1894M1824.5 442.8H1832.5M1886.2 442.8H1894M1824.5 451.3H1832.5M1886.2 451.3H1894" stroke-width="2.8"/>
<path d="M1838.6 433.2L1859.3 414.4L1880.4 433.2H1875.9V452.4H1869.6V437.4H1859.6V452.4H1842.5V433.2Z" stroke-width="3.1" stroke-linejoin="round" stroke-linecap="round"/>
<rect x="1847.6" y="438.2" width="6.4" height="6.2" stroke-width="2.3"/>
</g>
<g fill="none" stroke="#000" stroke-width="3" stroke-linecap="round" stroke-linejoin="round">
<path d="M1907.5 371.6V343.4Q1907.5 339.4 1911.5 339.4H1987.6Q1991.6 339.4 1991.6 343.4V371.2Q1991.6 375.2 1987.6 375.2H1983"/>
<path d="M1918.3 340.5V350.7H1981.7V340.5" stroke-linecap="butt"/>
<path d="M1976.2 358.3H1981.6M1976.2 363.7H1981.6"/>
<path d="M1958.6 371H1977.3Q1981.6 371 1981.6 375.3V377.6H1958.6"/>
<path d="M1959.9 386.2V398.5M1966.9 386.2V392.5M1974.1 386.2V388.6"/>
<path d="M1933.7 377.6L1933.7 356.6M1933.7 365.5L1927.1 359.5M1933.7 365.5L1940.3 359.5M1933.7 377.6L1951.9 367.1M1944.2 371.6L1946.0 362.8M1944.2 371.6L1952.6 374.3M1933.7 377.6L1951.9 388.1M1944.2 383.7L1952.6 380.9M1944.2 383.7L1946.0 392.4M1933.7 377.6L1933.7 398.6M1933.7 389.7L1940.3 395.7M1933.7 389.7L1927.1 395.7M1933.7 377.6L1915.5 388.1M1923.2 383.7L1921.4 392.4M1923.2 383.7L1914.8 380.9M1933.7 377.6L1915.5 367.1M1923.2 371.6L1914.8 374.3M1923.2 371.6L1921.4 362.8"/>
</g>
<g fill="none" stroke="#000" stroke-width="2.6" stroke-linecap="round" stroke-linejoin="round">
<ellipse cx="1935.6" cy="460.4" rx="16.3" ry="8.2"/>
<path d="M1919.3 460.4V509.2A16.3 8.2 0 0 0 1951.9 509.2V460.4"/>
<path d="M1919.3 483.2A16.3 8.2 0 0 0 1951.9 483.2M1919.3 501.4A16.3 8.2 0 0 0 1951.9 501.4"/>
<ellipse cx="1928.6" cy="460.4" rx="3.7" ry="2.2" stroke-width="2"/><ellipse cx="1942.3" cy="460.4" rx="3.7" ry="2.2" stroke-width="2"/>
<path d="M1962.2 464.5H1958.7V436.8H2000.2V464.5H1971.3L1964.6 474.2Z"/>
<path d="M1964.8 447.6V453.6M1970.1 446.8V454.4M1975.8 444.4V456.8M1981.5 446.8V454.4M1987.1 448V453.2M1992.8 448V453.2" stroke-width="2.3"/>
</g>
<path d="M1924.3 495.2h0.01M1929.9 496.7h0.01M1935.6 497.4h0.01M1941.2 496.7h0.01M1946.9 495.2h0.01M1924.3 500.2h0.01M1929.9 502h0.01M1935.6 502.9h0.01M1941.2 502h0.01M1946.9 500.2h0.01" stroke="#000" stroke-width="2.4" stroke-linecap="round" fill="none"/>
<path d="M1731 511.8C1727.5 510.5 1725.8 508.5 1725.8 506.2L1726 497C1726.3 494 1727.5 492.6 1729.8 492.1C1732.5 491.6 1735 491.2 1737.6 490.3C1740.5 489.3 1743.5 487.6 1746.6 486.3C1749.5 485 1752.5 484.2 1755.7 484H1767.4C1770.5 484.2 1773.5 484.8 1776.5 485.8C1780 487 1783.5 488.8 1787.3 490.3C1791.5 491.9 1796 493.2 1800.9 494.4C1804 495.1 1807 495.7 1809.9 496.7C1813 497.8 1814.6 499 1814.9 500.7C1815.4 502 1815.5 503.2 1815.3 504.3C1814.8 506.2 1813.6 507.6 1811.7 508.9C1809.8 510 1807.6 510.6 1805.4 511.1L1803 511.8Z" fill="#1d1d1b"/>
<circle cx="1740.8" cy="509.3" r="8.1" fill="#f5f5f5"/><circle cx="1740.8" cy="509.3" r="6.9" fill="#1d1d1b"/><circle cx="1740.8" cy="509.3" r="5" fill="#f5f5f5"/><circle cx="1740.8" cy="509.3" r="3.3" fill="#1d1d1b"/>
<circle cx="1796.8" cy="509.3" r="8.1" fill="#f5f5f5"/><circle cx="1796.8" cy="509.3" r="6.9" fill="#1d1d1b"/><circle cx="1796.8" cy="509.3" r="5" fill="#f5f5f5"/><circle cx="1796.8" cy="509.3" r="3.3" fill="#1d1d1b"/>
<path d="M1753.2 496.6H1762.4C1762.8 492.5 1766.5 489.4 1771 489.4H1774.2V493.2H1781.1Q1782.3 493.2 1782.3 494.4Q1782.3 495.6 1781.1 495.6H1774.2V500.6H1781.1Q1782.3 500.6 1782.3 501.8Q1782.3 503 1781.1 503H1774.2V507.1H1771C1766.5 507.1 1762.8 504 1762.4 499.8H1753.2Q1751.6 499.8 1751.6 498.2Q1751.6 496.6 1753.2 496.6Z" fill="#f5f5f5"/>
<defs>
<linearGradient id="gHead" x1="0" y1="0" x2="0" y2="1"><stop offset="0" stop-color="#a6d2ff"/><stop offset="1" stop-color="#0a6cff"/></linearGradient>
<linearGradient id="gHair2" x1="0" y1="0" x2="0" y2="1"><stop offset="0" stop-color="#9cc0f7"/><stop offset="1" stop-color="#7d9fe8"/></linearGradient>
<linearGradient id="gFace2" x1="0" y1="0" x2="0.3" y2="1"><stop offset="0" stop-color="#6fb0ff"/><stop offset="1" stop-color="#1673ff"/></linearGradient>
<linearGradient id="gFace1" x1="0" y1="0" x2="1" y2="0"><stop offset="0" stop-color="#eef5ff"/><stop offset="1" stop-color="#86b6ff"/></linearGradient>
<linearGradient id="gNeck2" x1="0" y1="0" x2="1" y2="0"><stop offset="0" stop-color="#b7d4ff"/><stop offset="1" stop-color="#3d8bff"/></linearGradient>
<linearGradient id="gSrvL" x1="0" y1="0" x2="0" y2="1"><stop offset="0" stop-color="#93ccff"/><stop offset="1" stop-color="#0f7dff"/></linearGradient>
<linearGradient id="gSrvT" x1="0" y1="1" x2="1" y2="0"><stop offset="0" stop-color="#7fcaff"/><stop offset="1" stop-color="#2ea7ff"/></linearGradient>
<linearGradient id="gSrvR" x1="0" y1="0" x2="0" y2="1"><stop offset="0" stop-color="#8fb2f2"/><stop offset="0.55" stop-color="#3a5fc8"/><stop offset="1" stop-color="#07198a"/></linearGradient>
<linearGradient id="gTri" x1="0" y1="0" x2="0" y2="1"><stop offset="0" stop-color="#ff7a0e"/><stop offset="1" stop-color="#ffc445"/></linearGradient>
<linearGradient id="gFrame" x1="0" y1="0" x2="1" y2="1"><stop offset="0" stop-color="#d0d0d0"/><stop offset="1" stop-color="#8e8e8e"/></linearGradient>
</defs>
<g stroke="#fff" stroke-width="1" stroke-linejoin="round">
<path d="M496.5 48.6L506.1 40.7H527L534.4 45.8L534.9 56L521.9 69.5L504.9 77.4L496.5 69Z" fill="url(#gHead)"/>
<path d="M529.2 40.7H539.9L549 46.9L547.8 52.8L543.3 50.4L537 50.2L535.4 45.8Z" fill="url(#gHair2)"/>
<path d="M523 78.6L536.5 77.4L535.4 84.2L537.7 93.2L533.2 94.6H530.9L525.3 85.3Z" fill="url(#gNeck2)"/>
<path d="M531.5 54.3L537.7 50.3L543.3 50.9L546.1 54.3L544.5 60.5L548.4 66.7L544.5 68.4L543.9 74.6L541.1 77.4L536.5 77.4L535.8 80L527 78L529.8 75.2L530.3 69L534.3 67.3L529.8 60.5Z" fill="url(#gFace2)"/>
<path d="M508.9 59.9L516.2 58.2L524.1 50.3L529.8 50.9L531.5 54.3L529.8 60.5L534.3 67.3L530.3 69L529.8 75.2L527 78L521.9 78.6L520.7 88.7L516.2 92.1L509.5 88.7L504.9 83.1L510 70.6L506.6 63.9Z" fill="url(#gFace1)"/>
<path d="M494.8 94.9L499.9 83.1H504.9L509.5 88.7L516.2 92.1L514.5 94.9Z" fill="#003a9b"/>
<path d="M517.9 94.9L525.3 86.5L530.3 94.9Z" fill="#003a9b"/>
<path d="M534.9 94.9L539.4 88.1L543.9 94.9Z" fill="#0d6efd"/>
</g>
<path d="M588.3 76.3L590.7 74.6L618.6 88.2V98.9L588.3 82.1Z" fill="url(#gFrame)" stroke="#7a7a7a" stroke-width="0.6"/>
<path d="M582 15.8L588.3 11.9L623.6 32.4L620 37.5V87.2L582 68.9Z" fill="url(#gFrame)" stroke="#6a6a6a" stroke-width="0.7" stroke-linejoin="round"/>
<path d="M583.1 18.6L618.6 38.6V84.8L583.1 66.3Z" fill="#1c1c1c"/>
<path d="M601.5 28.9V75.8M583.1 35.3L618.6 54.4M583.1 50.4L618.6 69.5" stroke="#8a8a8a" stroke-width="0.9" fill="none"/>
<ellipse cx="587.9" cy="29.9" rx="3.7" ry="2.9" transform="rotate(32 587.9 29.9)" fill="#29abe2"/><path d="M591.6 34.8L599.9 39.1" stroke="#ec008c" stroke-width="2.8" stroke-linecap="round"/><ellipse cx="593.7" cy="31.9" rx="3.2" ry="4.5" transform="rotate(-14 593.7 31.9)" fill="#2e3192"/>
<ellipse cx="587.4" cy="44.8" rx="3.7" ry="2.9" transform="rotate(32 587.4 44.8)" fill="#00a651"/><path d="M591.1 49.8L599.4 54.1" stroke="#29abe2" stroke-width="2.8" stroke-linecap="round"/><ellipse cx="593.2" cy="46.8" rx="3.2" ry="4.5" transform="rotate(-14 593.2 46.8)" fill="#fff200"/>
<ellipse cx="587.4" cy="60.5" rx="3.7" ry="2.9" transform="rotate(32 587.4 60.5)" fill="#fbb040"/><path d="M591.1 65.5L599.4 69.8" stroke="#8dc63f" stroke-width="2.8" stroke-linecap="round"/><ellipse cx="593.2" cy="62.5" rx="3.2" ry="4.5" transform="rotate(-14 593.2 62.5)" fill="#d0d0d0"/>
<ellipse cx="605.7" cy="39.8" rx="3.7" ry="2.9" transform="rotate(32 605.7 39.8)" fill="#fbb040"/><path d="M609.3 44.8L617.6 49.1" stroke="#29abe2" stroke-width="2.8" stroke-linecap="round"/><ellipse cx="611.5" cy="41.8" rx="3.2" ry="4.5" transform="rotate(-14 611.5 41.8)" fill="#662d91"/>
<ellipse cx="605.7" cy="55.6" rx="3.7" ry="2.9" transform="rotate(32 605.7 55.6)" fill="#fff200"/><path d="M609.3 60.5L617.6 64.8" stroke="#ec008c" stroke-width="2.8" stroke-linecap="round"/><ellipse cx="611.5" cy="57.5" rx="3.2" ry="4.5" transform="rotate(-14 611.5 57.5)" fill="#8dc63f"/>
<ellipse cx="605.7" cy="71.3" rx="3.7" ry="2.9" transform="rotate(32 605.7 71.3)" fill="#fbb040"/><path d="M609.3 76.3L617.6 80.6" stroke="#39b54a" stroke-width="2.8" stroke-linecap="round"/><ellipse cx="611.5" cy="73.3" rx="3.2" ry="4.5" transform="rotate(-14 611.5 73.3)" fill="#ec008c"/>
<g stroke="#fff" stroke-width="1.5" stroke-linejoin="round">
<path d="M620.1 37.3L635.9 45.6V107.6L620.1 99.2Z" fill="url(#gSrvL)"/>
<path d="M620.1 36.5L652.9 19.9L667.8 27.4L635.9 44.8Z" fill="url(#gSrvT)"/>
<path d="M636.9 45.6L667.8 29V90.8L636.9 106.8Z" fill="url(#gSrvR)"/>
</g>
<path d="M623.8 58.2L629.7 60.7M623.8 64L629.7 66.9" stroke="#fff" stroke-width="1" fill="none"/>
<path d="M662 39.8L684.4 78.8H638.8Z" fill="url(#gTri)" stroke="#fff" stroke-width="2.4" stroke-linejoin="round"/>
<path d="M1494.5 61.3H1563Q1566.6 61.3 1566.4 64.5Q1566.2 66.2 1565 67.6L1541 95.5V128Q1541 131.3 1538 131.5H1532.5Q1531 131.5 1529.8 130.5L1519.5 122Q1518 120.8 1518 119V95.5L1492.3 67.4Q1491 65.9 1491 64.3Q1491 61.3 1494.5 61.3Z" fill="#000"/>
<circle cx="1557.5" cy="109.7" r="26.3" fill="#f5f5f5"/>
<circle cx="1557.5" cy="109.7" r="21.9" fill="#000"/>
<text transform="translate(1557.6 121.3) scale(1 1.14)" x="0" y="0" font-size="29.5" font-weight="700" text-anchor="middle" fill="#fff">$</text>
<g fill="none" stroke="#000" stroke-width="3" stroke-linecap="round" stroke-linejoin="round">
<path d="M1899.5 87.5A11.5 11.5 0 1 1 1906.8 67.2A12.7 12.7 0 0 1 1928.9 57.4A22.7 22.7 0 0 1 1973.6 66.5A11.2 11.2 0 1 1 1978.5 87.5"/>
<path d="M1924.8 78.8V63.2M1918.5 69.4L1924.8 62.7L1931.1 69.4M1952.3 62.5V78.6M1946 72.5L1952.3 79.2L1958.8 72.5"/>
<rect x="1905.5" y="85.3" width="66" height="13.9" rx="3.2" ry="3.2" fill="#f5f5f5" stroke-width="2.9"/>
<path d="M1911.8 92.3H1945M1949.8 92.3H1954.8" stroke-width="2.8"/>
<circle cx="1962.8" cy="92.3" r="2.2" fill="#000" stroke-width="2"/>
<rect x="1905.5" y="106.1" width="66" height="13.9" rx="3.2" ry="3.2" fill="#f5f5f5" stroke-width="2.9"/>
<path d="M1911.8 113.1H1945M1949.8 113.1H1954.8" stroke-width="2.8"/>
<circle cx="1962.8" cy="113.1" r="2.2" fill="#000" stroke-width="2"/>
<rect x="1905.5" y="126.9" width="66" height="13.9" rx="3.2" ry="3.2" fill="#f5f5f5" stroke-width="2.9"/>
<path d="M1911.8 133.9H1945M1949.8 133.9H1954.8" stroke-width="2.8"/>
<circle cx="1962.8" cy="133.9" r="2.2" fill="#000" stroke-width="2"/>
</g>
<circle cx="1993.5" cy="116.4" r="26.7" fill="#000"/>
<text transform="translate(1993.9 131.2) scale(1 1.13)" x="0" y="0" font-size="38.5" font-weight="700" text-anchor="middle" fill="#fff">$</text>
</svg>
</body></html>
